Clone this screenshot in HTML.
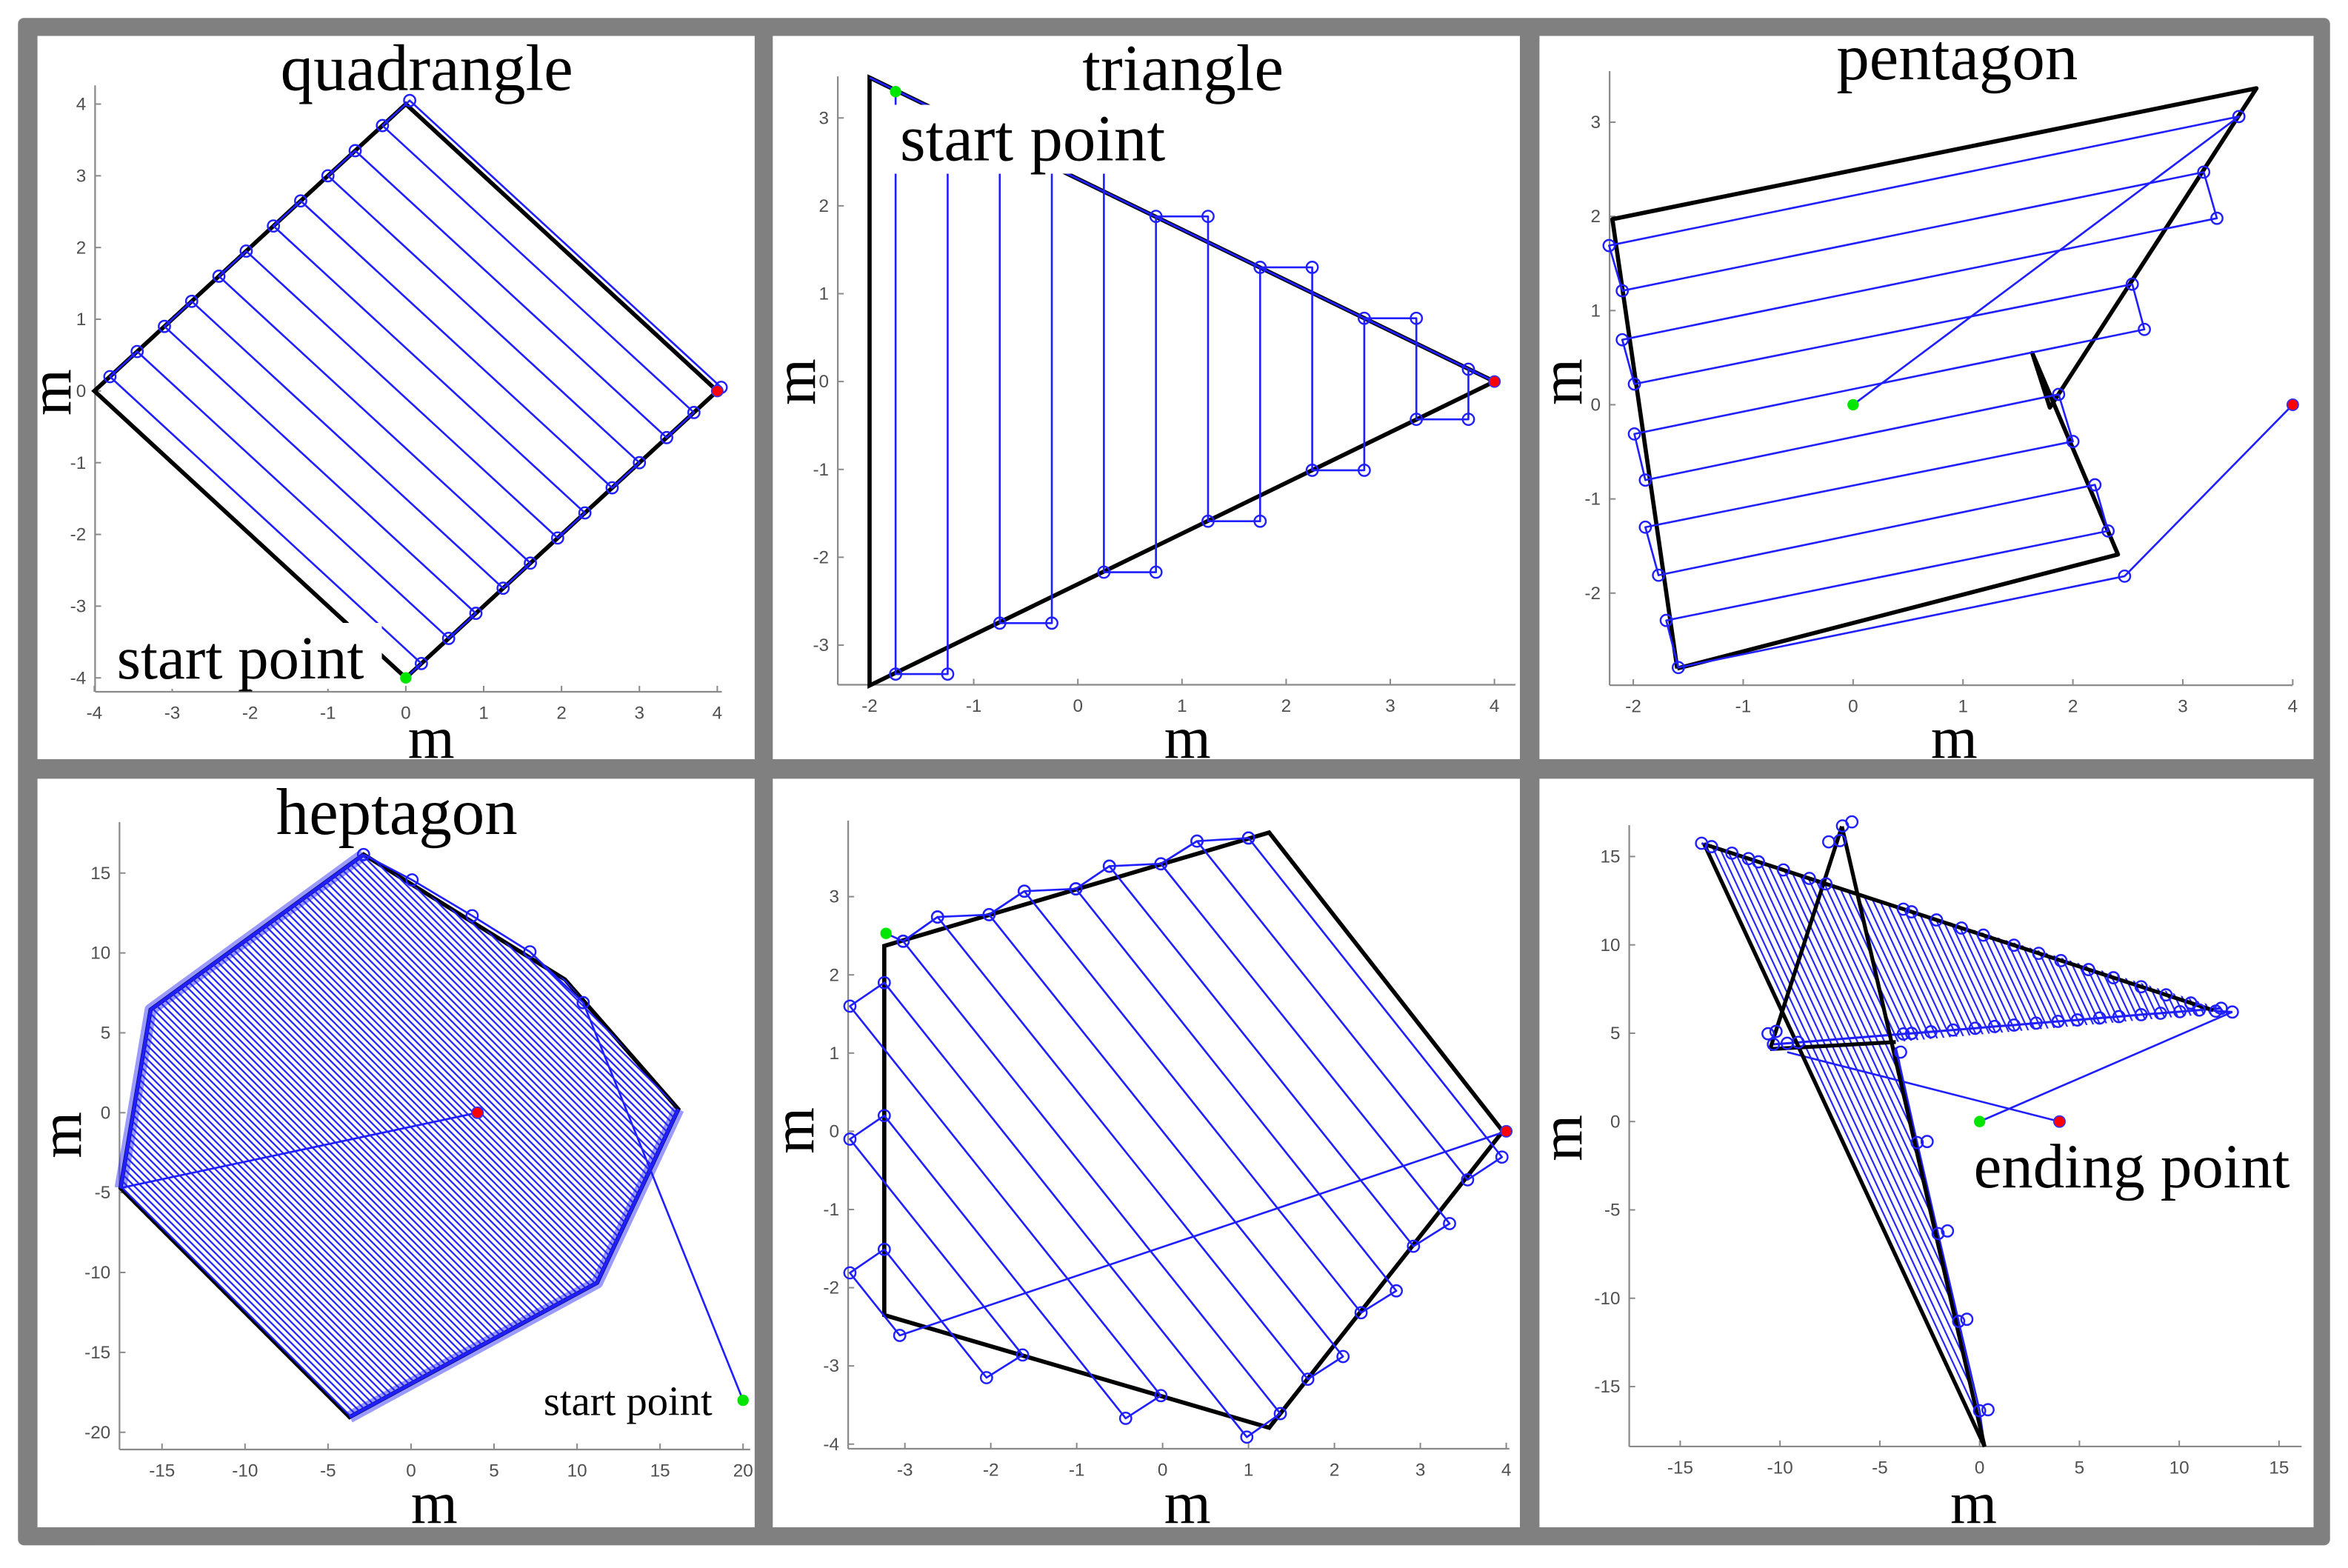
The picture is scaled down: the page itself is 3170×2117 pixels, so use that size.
<!DOCTYPE html>
<html><head><meta charset="utf-8"><title>Coverage path planning</title>
<style>
html,body{margin:0;padding:0;background:#fff;}
svg{display:block;}
text{font-family:"Liberation Sans",sans-serif;}
.serif{font-family:"Liberation Serif",serif;fill:#000;}
.tick{font-size:12px;fill:#505050;}
</style></head>
<body>
<svg id="fig" xmlns="http://www.w3.org/2000/svg" width="3170" height="2117" viewBox="0 0 1568 1047.15" preserveAspectRatio="none">
<rect x="12" y="12" width="1544" height="1020" rx="4" fill="#808080"/>
<defs>
<pattern id="hatchHept" patternUnits="userSpaceOnUse" width="3.3" height="10" patternTransform="rotate(-45)"><line x1="1.65" y1="0" x2="1.65" y2="10" stroke="#1f1fff" stroke-width="1.1"/></pattern>
<pattern id="hatchStar" patternUnits="userSpaceOnUse" width="4.1" height="10" patternTransform="rotate(-25)"><line x1="2" y1="0" x2="2" y2="10" stroke="#1f1fff" stroke-width="1.05"/></pattern>
</defs>
</svg>
<script>
// ---------- DATA ----------
const quadPolyX=[0,4,0,-4];
const quadPolyY=[4,0,-4,0];
const quadPathX=[0,0.2,-3.8,-3.45,0.55,0.9,-3.1,-2.75,1.25,1.6,-2.4,-2.05,1.95,2.3,-1.7,-1.35,2.65,3.0,-1.0,-0.65,3.35,3.7,-0.3,0.05,4.05,4];
const quadPathY=[-4,-3.8,0.2,0.55,-3.45,-3.1,0.9,1.25,-2.75,-2.4,1.6,1.95,-2.05,-1.7,2.3,2.65,-1.35,-1.0,3.0,3.35,-0.65,-0.3,3.7,4.05,0.05,0];

const triPolyX=[-2,4,-2];
const triPolyY=[3.46,0,-3.46];
const triPathX=[-1.75,-1.75,-1.25,-1.25,-0.75,-0.75,-0.25,-0.25,0.25,0.25,0.75,0.75,1.25,1.25,1.75,1.75,2.25,2.25,2.75,2.75,3.25,3.25,3.75,3.75,4];
const triPathY=[3.33,-3.33,-3.33,3.04,3.04,-2.75,-2.75,2.46,2.46,-2.17,-2.17,1.88,1.88,-1.59,-1.59,1.30,1.30,-1.01,-1.01,0.72,0.72,-0.43,-0.43,0.14,0];

const pentPolyX=[-1.6,-2.19,3.67,1.79,1.63,2.41,-1.6];
const pentPolyY=[-2.8,1.97,3.36,-0.03,0.55,-1.59,-2.8];
const pentPathX=[0,3.51,-2.22,-2.10,3.19,3.31,-2.10,-1.99,2.54,2.65,-1.99,-1.89,1.87,2.00,-1.89,-1.77,2.20,2.32,-1.70,-1.59,2.47,4];
const pentPathY=[0,3.06,1.69,1.21,2.47,1.98,0.69,0.22,1.28,0.80,-0.31,-0.80,0.11,-0.39,-1.30,-1.81,-0.85,-1.34,-2.29,-2.79,-1.82,0];

const heptPolyX=[-15.69,-2.86,9.27,16.10,11.21,-3.70,-17.50];
const heptPolyY=[6.45,16.16,8.34,0.22,-10.64,-19.05,-4.71];
const heptLeftBandX=[-17.50,-15.69,-2.86];
const heptLeftBandY=[-4.71,6.45,16.16];
const heptRightBandX=[16.10,11.21,-3.70];
const heptRightBandY=[0.22,-10.64,-19.05];
const heptStartPathX=[-2.86,0.06,3.68,7.16,10.37,20];
const heptStartPathY=[16.16,14.57,12.33,10.07,6.89,-18];
const heptEndPathX=[4,-17.5];
const heptEndPathY=[0,-4.71];

const hexPolyX=[-3.24,1.24,3.96,1.24,-3.24];
const hexPolyY=[2.37,3.82,0,-3.79,-2.35];
const hexPathX=[1.00,3.95,3.55,0.40,-0.02,3.34,2.92,-0.62,-1.01,2.72,2.31,-1.61,-2.02,2.10,1.69,-2.62,-3.02,1.37,0.98,-3.24,-3.64,-0.02,-0.43,-3.24,-3.64,-1.63,-2.05,-3.24,-3.64,-3.06,4];
const hexPathY=[3.75,-0.33,-0.62,3.71,3.42,-1.18,-1.47,3.39,3.10,-2.04,-2.32,3.07,2.77,-2.88,-3.17,2.74,2.43,-3.61,-3.91,1.90,1.60,-3.38,-3.67,0.20,-0.10,-2.86,-3.15,-1.51,-1.81,-2.61,0];
const hexTopX=[-3.22,-3.02,-2.62,-2.02,-1.61,-1.01,-0.62,-0.02,0.40,1.00];
const hexTopY=[2.53,2.43,2.74,2.77,3.07,3.10,3.39,3.42,3.71,3.75];

const starLinesX=[[0.25,-13.8],[-13.8,11.7],[-10.5,-6.9],[-6.9,0.25],[-10.5,-4.2]];
const starLinesY=[[-18.4,15.7],[15.7,6.3],[4.1,16.7],[16.7,-18.4],[4.1,4.5]];
const starHatchX=[-13.8,12.66,-4.2,0.25];
const starHatchY=[15.7,6.2,4.5,-18.4];
const starTopX=[-13.93,-13.43,-12.41,-11.58,-11.08,-9.83,-8.53,-7.70,-3.82,-3.41,-2.16,-0.91,0.19,1.72,2.96,4.07,5.46,6.70,8.09,9.34,10.58,11.83,12.66];
const starTopY=[15.75,15.56,15.19,14.88,14.70,14.24,13.76,13.45,12.02,11.87,11.41,10.95,10.55,9.98,9.52,9.11,8.60,8.14,7.63,7.17,6.71,6.25,6.20];
const starBotX=[-10.33,-9.64,-9.09,-3.82,-3.41,-2.44,-1.33,-0.22,0.75,1.72,2.83,3.93,4.9,6.01,6.98,8.09,9.06,10.03,11.0,12.1];
const starBotY=[4.37,4.43,4.48,4.96,4.99,5.08,5.18,5.28,5.38,5.46,5.57,5.67,5.75,5.86,5.94,6.05,6.13,6.22,6.31,6.41];
const starExtraX=[-7.56,-6.87,-6.4,-7.0,-10.6,-10.2,-3.96,-3.13,-2.63,-2.08,-1.61,-1.05,-0.64,0,0.42];
const starExtraY=[15.83,16.73,16.96,15.9,4.97,5.1,3.93,-1.19,-1.13,-6.34,-6.19,-11.31,-11.19,-16.37,-16.31];
const starSpikeX=[-4.2,-3.13,-2.08,-1.05,0,0.25];
const starSpikeY=[4.2,-1.19,-6.34,-11.31,-16.37,-18.4];
const starGreenPathX=[0,12.66];
const starGreenPathY=[0,6.2];
const starRedPathX=[4,-9.64];
const starRedPathY=[0,3.93];

const ticksQuadX=[-4,-3,-2,-1,0,1,2,3,4], ticksQuadY=[-4,-3,-2,-1,0,1,2,3,4];
const ticksTriX=[-2,-1,0,1,2,3,4], ticksTriY=[-3,-2,-1,0,1,2,3];
const ticksPentX=[-2,-1,0,1,2,3,4], ticksPentY=[-2,-1,0,1,2,3];
const ticksHeptX=[-15,-10,-5,0,5,10,15,20], ticksHeptY=[-20,-15,-10,-5,0,5,10,15];
const ticksHexX=[-3,-2,-1,0,1,2,3,4], ticksHexY=[-4,-3,-2,-1,0,1,2,3];
const ticksStarX=[-15,-10,-5,0,5,10,15], ticksStarY=[-15,-10,-5,0,5,10,15];

// ---------- LAYOUT ----------
const NS='http://www.w3.org/2000/svg';
const svg=document.getElementById('fig');
const BLUE='#1f1fff';
const LW=1.3;
const panels=[
 {key:'quadrangle',title:'quadrangle',tx:285,ty:60,rect:[25,24,479,483],x0:271,sx:52,y0:261.1,sy:47.9,left:63.5,bottom:462,top:57,right:482,xt:ticksQuadX,yt:ticksQuadY,xlx:288,xly:506,ylx:47,yly:262},
 {key:'triangle',title:'triangle',tx:790,ty:60,rect:[516,24,499,483],x0:719.8,sx:69.55,y0:254.8,sy:58.67,left:559.5,bottom:457.3,top:51,right:1012,xt:ticksTriX,yt:ticksTriY,xlx:793,xly:506,ylx:544,yly:255},
 {key:'pentagon',title:'pentagon',tx:1307,ty:53,rect:[1028,24,517,483],x0:1237.5,sx:73.4,y0:270.3,sy:62.9,left:1074.9,bottom:457.6,top:47.5,right:1531,xt:ticksPentX,yt:ticksPentY,xlx:1305,xly:506,ylx:1056,yly:255},
 {key:'heptagon',title:'heptagon',tx:265,ty:557,rect:[25,520,479,500],x0:274.5,sx:11.086,y0:743.1,sy:10.67,left:79.8,bottom:968,top:549,right:501,xt:ticksHeptX,yt:ticksHeptY,xlx:290,xly:1017,ylx:54,yly:758},
 {key:'hexagon',title:'',tx:0,ty:0,rect:[516,520,499,500],x0:776.4,sx:57.37,y0:755.5,sy:52.23,left:566.4,bottom:967.5,top:548,right:1008,xt:ticksHexX,yt:ticksHexY,xlx:793,xly:1017,ylx:543,yly:755},
 {key:'star',title:'',tx:0,ty:0,rect:[1028,520,517,500],x0:1322,sx:13.33,y0:749,sy:11.8,left:1088,bottom:966,top:551,right:1537,xt:ticksStarX,yt:ticksStarY,xlx:1318,xly:1017,ylx:1056,yly:760}
];

function el(parent,tag,attrs,name){
  const e=document.createElementNS(NS,tag);
  for(const k in attrs) e.setAttribute(k,attrs[k]);
  
  
  parent.appendChild(e);
  return e;
}
function sx(p,v){return p.x0+v*p.sx;}
function sy(p,v){return p.y0-v*p.sy;}
function pts(p,xs,ys){return xs.map((x,i)=>sx(p,x).toFixed(2)+','+sy(p,ys[i]).toFixed(2)).join(' ');}
function polyline(g,p,xs,ys,stroke,w,name){return el(g,'polyline',{points:pts(p,xs,ys),fill:'none',stroke:stroke,'stroke-width':w,'stroke-linejoin':'round'},name);}
function circles(g,p,xs,ys,name){xs.forEach((x,i)=>el(g,'circle',{cx:sx(p,x),cy:sy(p,ys[i]),r:3.8,fill:'none',stroke:BLUE,'stroke-width':1.2},name));}
function dot(g,p,x,y,color,name){el(g,'circle',{cx:sx(p,x),cy:sy(p,y),r:3.8,fill:color,stroke:color==='#ff0000'?'#3030ff':'none','stroke-width':0.8},name);}
function label(g,text,x,y,size,name,anchor,rot){
  const t=el(g,'text',{x:x,y:y,'font-size':size,'text-anchor':anchor||'start',class:'serif'},name);
  if(rot) t.setAttribute('transform','rotate(-90 '+x+' '+y+')');
  t.textContent=text;return t;
}

const groups={};
panels.forEach((p,idx)=>{
  const r=p.rect;
  const cp=el(svg.querySelector('defs'),'clipPath',{id:'clip'+idx},'panel-clip');
  el(cp,'rect',{x:r[0],y:r[1],width:r[2],height:r[3]},'clip-rect');
  const g=el(svg,'g',{'clip-path':'url(#clip'+idx+')'},'panel-'+p.key);
  el(g,'rect',{x:r[0],y:r[1],width:r[2],height:r[3],fill:'#fff'},'panel-background');
  const ax=el(g,'g',{},'axes');
  el(ax,'line',{x1:p.left,y1:p.top,x2:p.left,y2:p.bottom,stroke:'#8a8a8a','stroke-width':1.1},'y-axis-line');
  el(ax,'line',{x1:p.left,y1:p.bottom,x2:p.right,y2:p.bottom,stroke:'#8a8a8a','stroke-width':1.1},'x-axis-line');
  p.xt.forEach(v=>{
    const x=sx(p,v);
    el(ax,'line',{x1:x,y1:p.bottom,x2:x,y2:p.bottom-4,stroke:'#8a8a8a','stroke-width':1},'x-tick');
    const t=el(ax,'text',{x:x,y:p.bottom+18,'text-anchor':'middle',class:'tick'},'x-tick-label');
    t.textContent=v;
  });
  p.yt.forEach(v=>{
    const y=sy(p,v);
    el(ax,'line',{x1:p.left,y1:y,x2:p.left+4,y2:y,stroke:'#8a8a8a','stroke-width':1},'y-tick');
    const t=el(ax,'text',{x:p.left-6,y:y+4,'text-anchor':'end',class:'tick'},'y-tick-label');
    t.textContent=v;
  });
  groups[p.key]=g;
});

// ---------- PANEL 1: quadrangle ----------
(function(){const p=panels[0],g=groups.quadrangle;
  el(g,'polygon',{points:pts(p,quadPolyX,quadPolyY),fill:'none',stroke:'#000','stroke-width':2.8},'polygon-boundary');
  polyline(g,p,quadPathX,quadPathY,BLUE,LW,'coverage-path');
  circles(g,p,quadPathX.slice(1,-1),quadPathY.slice(1,-1),'waypoint-marker');
  el(g,'rect',{x:75,y:416,width:180,height:44,fill:'#fff'},'label-background');
  dot(g,p,quadPathX[0],quadPathY[0],'#00e600','start-point-marker');
  dot(g,p,4,0,'#ff0000','end-point-marker');
  label(g,'start point',78,453,41,'start-point-label');
})();

// ---------- PANEL 2: triangle ----------
(function(){const p=panels[1],g=groups.triangle;
  el(g,'polygon',{points:pts(p,triPolyX,triPolyY),fill:'none',stroke:'#000','stroke-width':2.8},'polygon-boundary');
  polyline(g,p,[triPolyX[0],triPolyX[1]],[triPolyY[0],triPolyY[1]],BLUE,1.4,'top-edge-path');
  polyline(g,p,triPathX,triPathY,BLUE,LW,'coverage-path');
  circles(g,p,triPathX.slice(1,-1),triPathY.slice(1,-1),'waypoint-marker');
  el(g,'rect',{x:586,y:70,width:200,height:46,fill:'#fff'},'label-background');
  dot(g,p,-1.75,3.3,'#00e600','start-point-marker');
  dot(g,p,4,0,'#ff0000','end-point-marker');
  label(g,'start point',601,107,44,'start-point-label');
})();

// ---------- PANEL 3: pentagon ----------
(function(){const p=panels[2],g=groups.pentagon;
  polyline(g,p,pentPolyX,pentPolyY,'#000',2.8,'polygon-boundary');
  polyline(g,p,pentPathX,pentPathY,BLUE,LW,'coverage-path');
  circles(g,p,pentPathX.slice(1,-1),pentPathY.slice(1,-1),'waypoint-marker');
  dot(g,p,0,0,'#00e600','start-point-marker');
  dot(g,p,4,0,'#ff0000','end-point-marker');
})();

// ---------- PANEL 4: heptagon ----------
(function(){const p=panels[3],g=groups.heptagon;
  el(g,'polygon',{points:pts(p,heptPolyX,heptPolyY),fill:'none',stroke:'#000','stroke-width':2.8},'polygon-boundary');
  el(g,'polygon',{points:pts(p,heptPolyX,heptPolyY),fill:'url(#hatchHept)',stroke:'none'},'coverage-hatch');
  polyline(g,p,heptLeftBandX,heptLeftBandY,BLUE,8,'left-waypoint-band').setAttribute('stroke-opacity','0.45');
  polyline(g,p,heptLeftBandX,heptLeftBandY,BLUE,2,'left-boundary-path');
  polyline(g,p,heptRightBandX,heptRightBandY,BLUE,8,'right-waypoint-band').setAttribute('stroke-opacity','0.45');
  polyline(g,p,heptRightBandX,heptRightBandY,BLUE,2,'right-boundary-path');
  polyline(g,p,heptStartPathX,heptStartPathY,BLUE,LW,'start-path');
  circles(g,p,heptStartPathX.slice(0,-1),heptStartPathY.slice(0,-1),'waypoint-marker');
  polyline(g,p,heptEndPathX,heptEndPathY,BLUE,LW,'end-path');
  dot(g,p,20,-18,'#00e600','start-point-marker');
  dot(g,p,4,0,'#ff0000','end-point-marker');
  label(g,'start point',363,945,28,'start-point-label');
})();

// ---------- PANEL 5: hexagon ----------
(function(){const p=panels[4],g=groups.hexagon;
  el(g,'polygon',{points:pts(p,hexPolyX,hexPolyY),fill:'none',stroke:'#000','stroke-width':2.8},'polygon-boundary');
  polyline(g,p,hexTopX,hexTopY,BLUE,LW,'top-zigzag-path');
  polyline(g,p,hexPathX,hexPathY,BLUE,LW,'coverage-path');
  circles(g,p,hexPathX.slice(0,-1),hexPathY.slice(0,-1),'waypoint-marker');
  circles(g,p,hexTopX.slice(1),hexTopY.slice(1),'waypoint-marker');
  dot(g,p,hexTopX[0],hexTopY[0],'#00e600','start-point-marker');
  dot(g,p,4,0,'#ff0000','end-point-marker');
})();

// ---------- PANEL 6: star ----------
(function(){const p=panels[5],g=groups.star;
  el(g,'polygon',{points:pts(p,starHatchX,starHatchY),fill:'url(#hatchStar)',stroke:'none'},'coverage-hatch');
  polyline(g,p,starTopX,starTopY,BLUE,1.5,'top-edge-path');
  polyline(g,p,starBotX,starBotY,BLUE,1.5,'bottom-edge-path');
  polyline(g,p,starSpikeX,starSpikeY,BLUE,1.3,'spike-path');
  polyline(g,p,starGreenPathX,starGreenPathY,BLUE,LW,'start-path');
  polyline(g,p,starRedPathX,starRedPathY,BLUE,LW,'end-path');
  starLinesX.forEach((xs,i)=>polyline(g,p,xs,starLinesY[i],'#000',2.6,'polygon-edge'));
  circles(g,p,starTopX,starTopY,'waypoint-marker');
  circles(g,p,starBotX,starBotY,'waypoint-marker');
  circles(g,p,starExtraX,starExtraY,'waypoint-marker');
  dot(g,p,0,0,'#00e600','start-point-marker');
  dot(g,p,4,0,'#ff0000','end-point-marker');
  label(g,'ending point',1318,793,42,'end-point-label');
})();

// ---------- titles and axis labels ----------
panels.forEach(p=>{
  const g=groups[p.key];
  if(p.title) label(g,p.title,p.tx,p.ty,44,'panel-title','middle');
  label(g,'m',p.xlx,p.xly,40,'x-axis-title','middle');
  label(g,'m',p.ylx,p.yly,40,'y-axis-title','middle',true);
});
</script>
</body></html>
